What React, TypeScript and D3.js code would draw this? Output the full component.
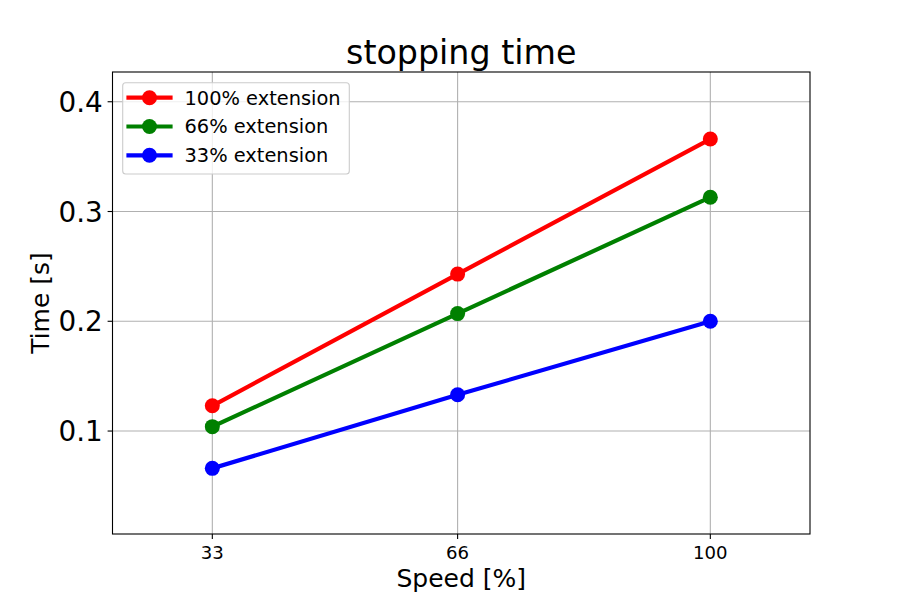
import React from "react";
import * as d3 from "d3";

const speeds = [33, 66, 100];
const seriesNames = ["100% extension", "66% extension", "33% extension"];
const seriesColors = ["#ff0000", "#008000", "#0000ff"];
const ext100 = [0.123, 0.243, 0.366];
const ext66 = [0.104, 0.207, 0.313];
const ext33 = [0.066, 0.133, 0.2];
const yTicks = [0.1, 0.2, 0.3, 0.4];
const xTicks = [33, 66, 100];

const W = 900;
const H = 600;
const margin = { left: 112.5, right: 90, top: 72, bottom: 66 };
const FONT = "'DejaVu Sans', sans-serif";

export default function App() {
  const x = d3
    .scaleLinear()
    .domain([19.57, 113.41])
    .range([margin.left, W - margin.right]);
  const y = d3
    .scaleLinear()
    .domain([0.0062, 0.4271])
    .range([H - margin.bottom, margin.top]);

  const series = [ext100, ext66, ext33].map((vals, i) => ({
    name: seriesNames[i],
    color: seriesColors[i],
    points: vals.map((v, j) => ({ sx: speeds[j], v })),
  }));

  const line = d3
    .line<{ sx: number; v: number }>()
    .x((d) => x(d.sx))
    .y((d) => y(d.v));

  const x0 = margin.left;
  const x1 = W - margin.right;
  const y0 = margin.top;
  const y1 = H - margin.bottom;

  const legX = 122.7;
  const legY = 82.7;
  const legW = 226.6;
  const legH = 91.3;
  const rowY = [97.7, 126.5, 155.3];

  return (
    <svg
      width={W}
      height={H}
      style={{ position: "fixed", left: 0, top: 0, background: "#fff" }}
      fontFamily={FONT}
    >
      <rect x={0} y={0} width={W} height={H} fill="#fff" />
      {/* grid */}
      <g stroke="#b0b0b0" strokeWidth={1.1}>
        {xTicks.map((t) => (
          <line key={"gx" + t} x1={x(t)} x2={x(t)} y1={y0} y2={y1} />
        ))}
        {yTicks.map((t) => (
          <line key={"gy" + t} x1={x0} x2={x1} y1={y(t)} y2={y(t)} />
        ))}
      </g>
      {/* series */}
      {series.map((s) => (
        <g key={s.name}>
          <path
            d={line(s.points) || ""}
            fill="none"
            stroke={s.color}
            strokeWidth={4.2}
            strokeLinecap="square"
          />
          {s.points.map((p, j) => (
            <circle key={j} cx={x(p.sx)} cy={y(p.v)} r={7.5} fill={s.color} />
          ))}
        </g>
      ))}
      {/* frame */}
      <rect
        x={x0}
        y={y0}
        width={x1 - x0}
        height={y1 - y0}
        fill="none"
        stroke="#000"
        strokeWidth={1.1}
      />
      {/* y ticks */}
      {yTicks.map((t) => (
        <g key={"yt" + t}>
          <line x1={x0 - 4.9} x2={x0} y1={y(t)} y2={y(t)} stroke="#000" strokeWidth={1.1} />
          <text
            x={x0 - 9.8}
            y={y(t)}
            dy="0.36em"
            textAnchor="end"
            fontSize={27.8}
            fill="#000"
          >
            {d3.format(".1f")(t)}
          </text>
        </g>
      ))}
      {/* x ticks */}
      {xTicks.map((t) => (
        <g key={"xt" + t}>
          <line x1={x(t)} x2={x(t)} y1={y1} y2={y1 + 4.9} stroke="#000" strokeWidth={1.1} />
          <text x={x(t)} y={y1 + 25} textAnchor="middle" fontSize={18.1} fill="#000">
            {t}
          </text>
        </g>
      ))}
      {/* axis labels */}
      <text x={(x0 + x1) / 2} y={587} textAnchor="middle" fontSize={25} fill="#000">
        Speed [%]
      </text>
      <text
        transform={`translate(49,${(y0 + y1) / 2}) rotate(-90)`}
        textAnchor="middle"
        fontSize={25}
        fill="#000"
      >
        Time [s]
      </text>
      {/* title */}
      <text x={(x0 + x1) / 2} y={63.7} textAnchor="middle" fontSize={33.3} fill="#000">
        stopping time
      </text>
      {/* legend */}
      <g>
        <rect
          x={legX}
          y={legY}
          width={legW}
          height={legH}
          rx={3}
          fill="#fff"
          fillOpacity={0.8}
          stroke="#cccccc"
          strokeWidth={1.1}
        />
        {series.map((s, i) => (
          <g key={"leg" + s.name}>
            <line
              x1={128.5}
              x2={170.5}
              y1={rowY[i]}
              y2={rowY[i]}
              stroke={s.color}
              strokeWidth={4.2}
              strokeLinecap="square"
            />
            <circle cx={149.5} cy={rowY[i]} r={7.5} fill={s.color} />
            <text x={184.5} y={rowY[i]} dy="0.36em" fontSize={19.4} fill="#000">
              {s.name}
            </text>
          </g>
        ))}
      </g>
    </svg>
  );
}
